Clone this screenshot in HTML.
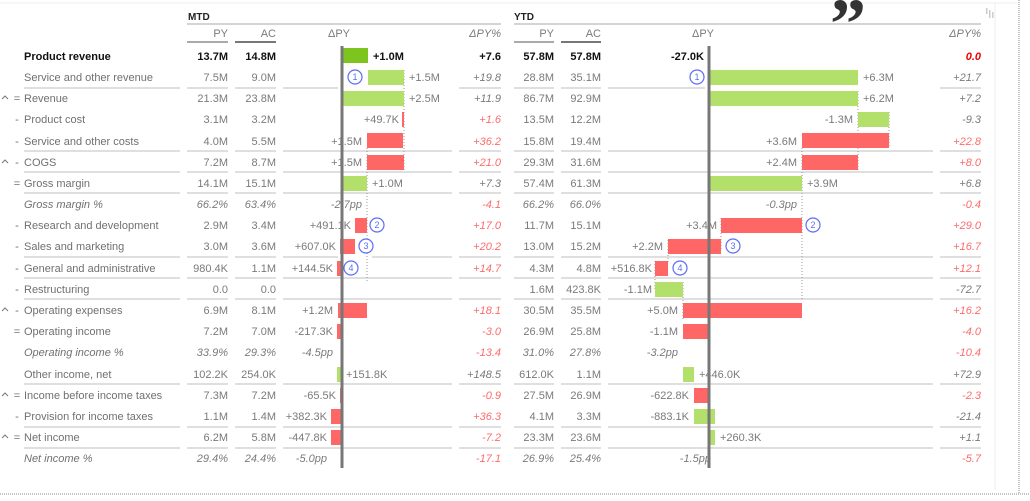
<!DOCTYPE html>
<html><head><meta charset="utf-8"><style>
body{margin:0;background:#fff;width:1030px;height:496px;overflow:hidden}
svg{font-family:"Liberation Sans",sans-serif;font-size:11px}
.l{fill:#707070}.n{fill:#7a7a7a;text-anchor:end}.s{fill:#7a7a7a}.e{fill:#7a7a7a;text-anchor:end}
.i{font-style:italic}.r{fill:#ff6b6b}.g{fill:#7a7a7a}.b{font-weight:bold;fill:#111}
.rb{fill:#ff6666}.gb{fill:#b3e06a}
.sep{stroke:#ccc;stroke-width:1.3}
</style></head><body>
<svg width="1030" height="496" viewBox="0 0 1030 496">
<line x1="0" y1="3" x2="1018" y2="3" stroke="#eee"/>
<line x1="995" y1="3" x2="995" y2="490" stroke="#eee"/>
<line x1="0" y1="494" x2="1030" y2="494" stroke="#888" stroke-dasharray="1,1"/>
<line x1="1019" y1="0" x2="1019" y2="494" stroke="#888" stroke-dasharray="1,1"/>
<text x="830" y="48" font-size="72" font-weight="bold" fill="#333" font-family="Liberation Serif,serif">”</text>
<g fill="#ccc"><rect x="986" y="8" width="1.5" height="6"/><rect x="989" y="10" width="1.5" height="8"/><rect x="992" y="12" width="1.5" height="6"/></g>
<!-- headers -->
<text x="188" y="20" font-weight="bold" font-size="10" fill="#222">MTD</text>
<line x1="187" y1="24" x2="501" y2="24" stroke="#aaa"/>
<text x="514" y="20" font-weight="bold" font-size="10" fill="#222">YTD</text>
<line x1="514" y1="24" x2="981" y2="24" stroke="#aaa"/>
<text x="228" y="37" class="n">PY</text><text x="276" y="37" class="n">AC</text>
<text x="339" y="37" class="s" text-anchor="middle">ΔPY</text><text x="501" y="37" class="n i">ΔPY%</text>
<text x="554" y="37" class="n">PY</text><text x="601" y="37" class="n">AC</text>
<text x="703" y="37" class="s" text-anchor="middle">ΔPY</text><text x="981" y="37" class="n i">ΔPY%</text>
<g stroke-width="2"><line x1="187" y1="42" x2="228" y2="42" stroke="#aaa"/><line x1="235" y1="42" x2="276" y2="42" stroke="#777"/>
<line x1="514" y1="42" x2="554" y2="42" stroke="#aaa"/><line x1="561" y1="42" x2="601" y2="42" stroke="#777"/></g>
<!-- separators -->
<g class="sep">
<path d="M24 88H180M187 88H228M235 88H276M283 88H338M459 88H501M514 88H554M561 88H601M608 88H705M940 88H981"/>
<path d="M24 151H180M187 151H228M235 151H276M283 151H452M459 151H501M514 151H554M561 151H601M608 151H933M940 151H981"/>
<path d="M24 172H180M187 172H228M235 172H276M283 172H452M459 172H501M514 172H554M561 172H601M608 172H933M940 172H981"/>
<path d="M24 193H180M187 193H228M235 193H276M283 193H452M459 193H501M514 193H554M561 193H601M608 193H933M940 193H981"/>
<path d="M24 257H180M187 257H228M235 257H276M283 257H338M372 257H452M459 257H501M514 257H554M561 257H601M608 257H933M940 257H981"/>
<path d="M24 278H180M187 278H228M235 278H276M283 278H452M459 278H501M514 278H554M561 278H601M608 278H933M940 278H981"/>
<path d="M24 299H180M187 299H228M235 299H276M283 299H452M459 299H501M514 299H554M561 299H601M608 299H933M940 299H981"/>
<path d="M24 384H180M187 384H228M235 384H276M283 384H452M459 384H501M514 384H554M561 384H601M608 384H933M940 384H981"/>
<path d="M24 427H180M187 427H228M235 427H276M283 427H452M459 427H501M514 427H554M561 427H601M608 427H933M940 427H981"/>
<path d="M24 448H180M187 448H228M235 448H276M283 448H452M459 448H501M514 448H554M561 448H601M608 448H933M940 448H981"/>
</g>
<!-- connectors -->
<g stroke="#999" stroke-dasharray="1,2" fill="none">
<path d="M404 70V170M367 148V283M802 148V300M858 91V172M889 112V148M721 218V250M668 240V262M655 261V290M683 282V320"/>
</g>
<!-- MTD bars -->
<rect x="342" y="48" width="26" height="15" fill="#7dc51e"/>
<rect x="368" y="70" width="36" height="15" class="gb"/>
<rect x="342" y="91" width="62" height="15" class="gb"/>
<rect x="402" y="112" width="2" height="15" class="rb"/>
<rect x="367" y="133" width="36" height="15" class="rb"/>
<rect x="367" y="155" width="37" height="15" class="rb"/>
<rect x="342" y="176" width="25" height="15" class="gb"/>
<rect x="355" y="218" width="12" height="15" class="rb"/>
<rect x="340" y="239" width="15" height="15" class="rb"/>
<rect x="337" y="261" width="4" height="15" class="rb"/>
<rect x="338" y="303" width="29" height="15" class="rb"/>
<rect x="337" y="324" width="5" height="15" class="rb"/>
<rect x="337" y="367" width="4" height="15" class="gb"/>
<rect x="340" y="388" width="2" height="15" class="rb"/>
<rect x="331" y="409" width="11" height="15" class="rb"/>
<rect x="331" y="430" width="11" height="15" class="rb"/>
<line x1="342" y1="46" x2="342" y2="468" stroke="#777" stroke-width="3"/>
<!-- YTD bars -->
<rect x="708" y="48" width="2" height="15" fill="#e00"/>
<rect x="709" y="70" width="149" height="15" class="gb"/>
<rect x="709" y="91" width="149" height="15" class="gb"/>
<rect x="858" y="112" width="31" height="15" class="gb"/>
<rect x="802" y="133" width="87" height="15" class="rb"/>
<rect x="802" y="155" width="56" height="15" class="rb"/>
<rect x="709" y="176" width="93" height="15" class="gb"/>
<rect x="721" y="218" width="81" height="15" class="rb"/>
<rect x="668" y="239" width="53" height="15" class="rb"/>
<rect x="655" y="261" width="13" height="15" class="rb"/>
<rect x="655" y="282" width="28" height="15" class="gb"/>
<rect x="683" y="303" width="119" height="15" class="rb"/>
<rect x="683" y="324" width="26" height="15" class="rb"/>
<rect x="683" y="367" width="11" height="15" class="gb"/>
<rect x="694" y="388" width="15" height="15" class="rb"/>
<rect x="694" y="409" width="21" height="15" class="gb"/>
<rect x="709" y="430" width="6" height="15" class="gb"/>
<line x1="709" y1="46" x2="709" y2="468" stroke="#777" stroke-width="3"/>
<!-- circles -->
<g fill="#fff" stroke="#5b6ef5" stroke-width="1.2">
<circle cx="355" cy="77" r="7"/><circle cx="377" cy="225" r="7"/><circle cx="366" cy="246" r="7"/><circle cx="351" cy="268" r="7"/>
<circle cx="697" cy="77" r="7"/><circle cx="813" cy="225" r="7"/><circle cx="733" cy="246" r="7"/><circle cx="680" cy="268" r="7"/>
</g>
<g fill="#5b6ef5" font-size="9" text-anchor="middle">
<text x="355" y="80">1</text><text x="377" y="228">2</text><text x="366" y="249">3</text><text x="351" y="271">4</text>
<text x="697" y="80">1</text><text x="813" y="228">2</text><text x="733" y="249">3</text><text x="680" y="271">4</text>
</g>
<!-- row labels -->
<g class="l">
<text x="24" y="60" class="b">Product revenue</text>
<text x="24" y="81">Service and other revenue</text>
<text x="24" y="102">Revenue</text>
<text x="24" y="123">Product cost</text>
<text x="24" y="145">Service and other costs</text>
<text x="24" y="166">COGS</text>
<text x="24" y="187">Gross margin</text>
<text x="24" y="208" class="i">Gross margin %</text>
<text x="24" y="229">Research and development</text>
<text x="24" y="250">Sales and marketing</text>
<text x="24" y="272">General and administrative</text>
<text x="24" y="293">Restructuring</text>
<text x="24" y="314">Operating expenses</text>
<text x="24" y="335">Operating income</text>
<text x="24" y="356" class="i">Operating income %</text>
<text x="24" y="378">Other income, net</text>
<text x="24" y="399">Income before income taxes</text>
<text x="24" y="420">Provision for income taxes</text>
<text x="24" y="441">Net income</text>
<text x="24" y="462" class="i">Net income %</text>
</g>
<g class="l" text-anchor="middle">
<text x="17" y="102">=</text><text x="17" y="123">-</text><text x="17" y="145">-</text><text x="17" y="166">-</text>
<text x="17" y="187">=</text><text x="17" y="229">-</text><text x="17" y="250">-</text><text x="17" y="272">-</text>
<text x="17" y="293">-</text><text x="17" y="314">-</text><text x="17" y="335">=</text><text x="17" y="399">=</text>
<text x="17" y="420">-</text><text x="17" y="441">=</text>
</g>
<g fill="none" stroke="#777" stroke-width="1">
<path d="M2 99l3-3 3 3M2 163l3-3 3 3M2 311l3-3 3 3M2 396l3-3 3 3M2 438l3-3 3 3"/>
</g>
<!-- MTD PY/AC -->
<g class="n">
<text x="228" y="60" class="b">13.7M</text><text x="276" y="60" class="b">14.8M</text>
<text x="228" y="81">7.5M</text><text x="276" y="81">9.0M</text>
<text x="228" y="102">21.3M</text><text x="276" y="102">23.8M</text>
<text x="228" y="123">3.1M</text><text x="276" y="123">3.2M</text>
<text x="228" y="145">4.0M</text><text x="276" y="145">5.5M</text>
<text x="228" y="166">7.2M</text><text x="276" y="166">8.7M</text>
<text x="228" y="187">14.1M</text><text x="276" y="187">15.1M</text>
<text x="228" y="208" class="i">66.2%</text><text x="276" y="208" class="i">63.4%</text>
<text x="228" y="229">2.9M</text><text x="276" y="229">3.4M</text>
<text x="228" y="250">3.0M</text><text x="276" y="250">3.6M</text>
<text x="228" y="272">980.4K</text><text x="276" y="272">1.1M</text>
<text x="228" y="293">0.0</text><text x="276" y="293">0.0</text>
<text x="228" y="314">6.9M</text><text x="276" y="314">8.1M</text>
<text x="228" y="335">7.2M</text><text x="276" y="335">7.0M</text>
<text x="228" y="356" class="i">33.9%</text><text x="276" y="356" class="i">29.3%</text>
<text x="228" y="378">102.2K</text><text x="276" y="378">254.0K</text>
<text x="228" y="399">7.3M</text><text x="276" y="399">7.2M</text>
<text x="228" y="420">1.1M</text><text x="276" y="420">1.4M</text>
<text x="228" y="441">6.2M</text><text x="276" y="441">5.8M</text>
<text x="228" y="462" class="i">29.4%</text><text x="276" y="462" class="i">24.4%</text>
</g>
<!-- YTD PY/AC -->
<g class="n">
<text x="554" y="60" class="b">57.8M</text><text x="601" y="60" class="b">57.8M</text>
<text x="554" y="81">28.8M</text><text x="601" y="81">35.1M</text>
<text x="554" y="102">86.7M</text><text x="601" y="102">92.9M</text>
<text x="554" y="123">13.5M</text><text x="601" y="123">12.2M</text>
<text x="554" y="145">15.8M</text><text x="601" y="145">19.4M</text>
<text x="554" y="166">29.3M</text><text x="601" y="166">31.6M</text>
<text x="554" y="187">57.4M</text><text x="601" y="187">61.3M</text>
<text x="554" y="208" class="i">66.2%</text><text x="601" y="208" class="i">66.0%</text>
<text x="554" y="229">11.7M</text><text x="601" y="229">15.1M</text>
<text x="554" y="250">13.0M</text><text x="601" y="250">15.2M</text>
<text x="554" y="272">4.3M</text><text x="601" y="272">4.8M</text>
<text x="554" y="293">1.6M</text><text x="601" y="293">423.8K</text>
<text x="554" y="314">30.5M</text><text x="601" y="314">35.5M</text>
<text x="554" y="335">26.9M</text><text x="601" y="335">25.8M</text>
<text x="554" y="356" class="i">31.0%</text><text x="601" y="356" class="i">27.8%</text>
<text x="554" y="378">612.0K</text><text x="601" y="378">1.1M</text>
<text x="554" y="399">27.5M</text><text x="601" y="399">26.9M</text>
<text x="554" y="420">4.1M</text><text x="601" y="420">3.3M</text>
<text x="554" y="441">23.3M</text><text x="601" y="441">23.6M</text>
<text x="554" y="462" class="i">26.9%</text><text x="601" y="462" class="i">25.4%</text>
</g>
<!-- MTD bar labels -->
<g class="s">
<text x="373" y="60" class="b">+1.0M</text>
<text x="409" y="81">+1.5M</text><text x="409" y="102">+2.5M</text>
<text x="372" y="187">+1.0M</text><text x="346" y="378">+151.8K</text>
</g>
<g class="e">
<text x="399" y="123">+49.7K</text><text x="362" y="145">+1.5M</text><text x="362" y="166">+1.5M</text>
<text x="362" y="208" class="i">-2.7pp</text><text x="351" y="229">+491.1K</text><text x="336" y="250">+607.0K</text>
<text x="333" y="272">+144.5K</text><text x="333" y="314">+1.2M</text><text x="333" y="335">-217.3K</text>
<text x="333" y="356" class="i">-4.5pp</text><text x="336" y="399">-65.5K</text><text x="327" y="420">+382.3K</text>
<text x="327" y="441">-447.8K</text><text x="327" y="462" class="i">-5.0pp</text>
</g>
<!-- YTD bar labels -->
<g class="s">
<text x="863" y="81">+6.3M</text><text x="863" y="102">+6.2M</text><text x="807" y="187">+3.9M</text>
<text x="699" y="378">+446.0K</text><text x="720" y="441">+260.3K</text>
</g>
<g class="e">
<text x="704" y="60" class="b">-27.0K</text>
<text x="853" y="123">-1.3M</text><text x="797" y="145">+3.6M</text><text x="797" y="166">+2.4M</text>
<text x="797" y="208" class="i">-0.3pp</text><text x="717" y="229">+3.4M</text><text x="663" y="250">+2.2M</text>
<text x="652" y="272">+516.8K</text><text x="652" y="293">-1.1M</text><text x="678" y="314">+5.0M</text>
<text x="678" y="335">-1.1M</text><text x="678" y="356" class="i">-3.2pp</text><text x="689" y="399">-622.8K</text>
<text x="689" y="420">-883.1K</text><text x="711" y="462" class="i">-1.5pp</text>
</g>
<!-- MTD % -->
<g class="e i">
<text x="501" y="60" class="b" style="font-style:normal">+7.6</text>
<text x="501" y="81" class="g">+19.8</text><text x="501" y="102" class="g">+11.9</text>
<text x="501" y="123" class="r">+1.6</text><text x="501" y="145" class="r">+36.2</text>
<text x="501" y="166" class="r">+21.0</text><text x="501" y="187" class="g">+7.3</text>
<text x="501" y="208" class="r">-4.1</text><text x="501" y="229" class="r">+17.0</text>
<text x="501" y="250" class="r">+20.2</text><text x="501" y="272" class="r">+14.7</text>
<text x="501" y="314" class="r">+18.1</text><text x="501" y="335" class="r">-3.0</text>
<text x="501" y="356" class="r">-13.4</text><text x="501" y="378" class="g">+148.5</text>
<text x="501" y="399" class="r">-0.9</text><text x="501" y="420" class="r">+36.3</text>
<text x="501" y="441" class="r">-7.2</text><text x="501" y="462" class="r">-17.1</text>
</g>
<!-- YTD % -->
<g class="e i">
<text x="981" y="60" style="font-weight:bold;fill:#e00">0.0</text>
<text x="981" y="81" class="g">+21.7</text><text x="981" y="102" class="g">+7.2</text>
<text x="981" y="123" class="g">-9.3</text><text x="981" y="145" class="r">+22.8</text>
<text x="981" y="166" class="r">+8.0</text><text x="981" y="187" class="g">+6.8</text>
<text x="981" y="208" class="r">-0.4</text><text x="981" y="229" class="r">+29.0</text>
<text x="981" y="250" class="r">+16.7</text><text x="981" y="272" class="r">+12.1</text>
<text x="981" y="293" class="g">-72.7</text><text x="981" y="314" class="r">+16.2</text>
<text x="981" y="335" class="r">-4.0</text><text x="981" y="356" class="r">-10.4</text>
<text x="981" y="378" class="g">+72.9</text><text x="981" y="399" class="r">-2.3</text>
<text x="981" y="420" class="g">-21.4</text><text x="981" y="441" class="g">+1.1</text>
<text x="981" y="462" class="r">-5.7</text>
</g>
</svg>
</body></html>
